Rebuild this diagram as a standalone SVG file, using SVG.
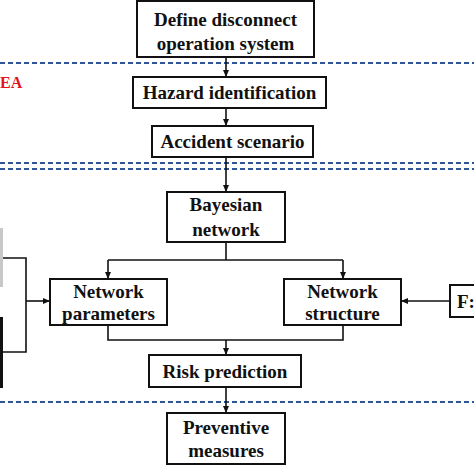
<svg xmlns="http://www.w3.org/2000/svg" width="474" height="474" viewBox="0 0 474 474">
<defs>
<marker id="ah" markerWidth="8" markerHeight="8" refX="7" refY="4" orient="auto" markerUnits="userSpaceOnUse">
<path d="M0,1 L7,4 L0,7 Z" fill="#111"/>
</marker>
<style>
.box{fill:#fff;stroke:#111;stroke-width:2}
.t{font-family:"Liberation Serif","Times New Roman",serif;font-weight:bold;font-size:19px;fill:#111;text-anchor:middle}
.c{fill:none;stroke:#111;stroke-width:1.6}
.d{fill:none;stroke:#2e5597;stroke-width:1.8;stroke-dasharray:5,3}
</style>
</defs>
<rect width="474" height="474" fill="#fff"/>
<g id="separators">
<line class="d" x1="0" y1="63" x2="474" y2="63"/>
<line class="d" x1="0" y1="163" x2="474" y2="163"/>
<line class="d" x1="0" y1="169" x2="474" y2="169"/>
<line class="d" x1="0" y1="402" x2="474" y2="402"/>
</g>
<text x="0" y="88" style="font-family:'Liberation Serif',serif;font-weight:bold;font-size:16px;fill:#e0141e">EA</text>
<g id="connectors">
<line class="c" x1="226" y1="57" x2="226" y2="77" marker-end="url(#ah)"/>
<line class="c" x1="226" y1="108" x2="226" y2="126" marker-end="url(#ah)"/>
<line class="c" x1="226" y1="157" x2="226" y2="192" marker-end="url(#ah)"/>
<polyline class="c" points="226,242 226,260"/>
<polyline class="c" points="108,260 343,260"/>
<line class="c" x1="108" y1="260" x2="108" y2="279" marker-end="url(#ah)"/>
<line class="c" x1="343" y1="260" x2="343" y2="279" marker-end="url(#ah)"/>
<polyline class="c" points="0,258 26,258 26,352 0,352"/>
<line class="c" x1="26" y1="301" x2="50" y2="301" marker-end="url(#ah)"/>
<line class="c" x1="450" y1="301" x2="401" y2="301" marker-end="url(#ah)"/>
<polyline class="c" points="108,325 108,340 343,340 343,325"/>
<line class="c" x1="226" y1="340" x2="226" y2="355" marker-end="url(#ah)"/>
<line class="c" x1="226" y1="387" x2="226" y2="413" marker-end="url(#ah)"/>
</g>
<g id="define">
<rect class="box" x="137" y="1" width="177" height="56"/>
<text class="t" x="225.5" y="26">Define disconnect</text>
<text class="t" x="225.5" y="50">operation system</text>
</g>
<g id="hazard">
<rect class="box" x="133" y="77" width="193" height="31"/>
<text class="t" x="229.5" y="99">Hazard identification</text>
</g>
<g id="accident">
<rect class="box" x="152" y="126" width="161" height="31"/>
<text class="t" x="232.5" y="148">Accident scenario</text>
</g>
<g id="bayesian">
<rect class="box" x="167" y="192" width="118" height="50"/>
<text class="t" x="226" y="211">Bayesian</text>
<text class="t" x="226" y="236">network</text>
</g>
<g id="params">
<rect class="box" x="50" y="279" width="117" height="46"/>
<text class="t" x="108.5" y="298">Network</text>
<text class="t" x="108.5" y="320">parameters</text>
</g>
<g id="structure">
<rect class="box" x="284" y="279" width="117" height="46"/>
<text class="t" x="342.5" y="298">Network</text>
<text class="t" x="342.5" y="320">structure</text>
</g>
<g id="f-box">
<rect class="box" x="450" y="285" width="30" height="32"/>
<text class="t" x="457" y="308" style="text-anchor:start">F:</text>
</g>
<g id="left-gray">
<rect x="-2" y="228" width="5" height="59" fill="#c8c8c8"/>
</g>
<g id="left-black">
<rect x="-2" y="317" width="5" height="71" fill="#111"/>
</g>
<g id="risk">
<rect class="box" x="149" y="355" width="152" height="32"/>
<text class="t" x="225" y="378">Risk prediction</text>
</g>
<g id="preventive">
<rect class="box" x="167" y="413" width="118" height="51"/>
<text class="t" x="226" y="434">Preventive</text>
<text class="t" x="226" y="457">measures</text>
</g>
</svg>
